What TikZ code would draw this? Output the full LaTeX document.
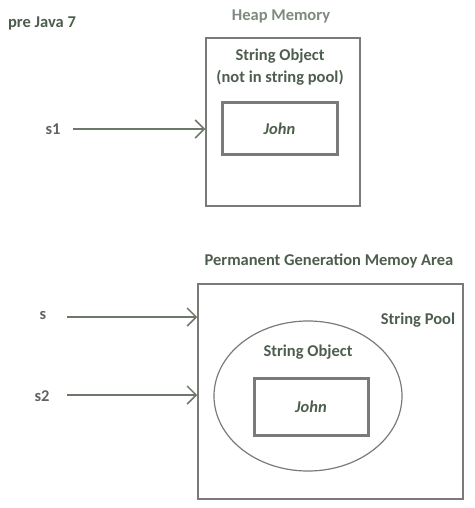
\documentclass[tikz,border=0pt]{standalone}
\usepackage{fontspec}
\setmainfont{Carlito}
\usetikzlibrary{positioning, shapes.geometric, arrows.meta}

\definecolor{txtgreen}{HTML}{4E5E4E}
\definecolor{txtlight}{HTML}{7E8A7E}
\definecolor{linegray}{HTML}{7A7A7A}
\definecolor{arrgreen}{HTML}{6E786A}

\tikzset{
    label/.style={inner sep=0pt, text=txtgreen, font=\bfseries\fontsize{16.5}{19}\selectfont},
    membox/.style={draw=linegray, line width=1.5pt, inner sep=0pt},
    johnbox/.style={draw=linegray, line width=3pt, inner sep=0pt, text=txtgreen, font=\bfseries\itshape\fontsize{16.5}{19}\selectfont},
    pointer/.style={draw=arrgreen, line width=1.5pt, -{Straight Barb[length=9pt, width=18pt, line width=1.5pt]}}
}

\begin{document}
\begin{tikzpicture}[x=1pt, y=-1pt]
            \useasboundingbox (0,0) rectangle (474,508);

            %ヒープ領域
            \node[label] (title) at (42,23) {pre Java 7};
            \node[label, text=txtlight] (heaptitle) at (281,16) {Heap Memory};
            \node[membox, minimum width=154pt, minimum height=168pt] (heap) at (283,122) {};
            \node[label] (obj1) at (280,56) {String Object};
            \node[label] (obj1b) at (280,78) {(not in string pool)};
            \node[johnbox, minimum width=115pt, minimum height=51pt] (john1) at (279.5,128.5) {John};

            %永続領域
            \node[label] (permtitle) at (329,261) {Permanent Generation Memoy Area};
            \node[membox, minimum width=265pt, minimum height=215pt] (perm) at (330.5,391.5) {};
            \node[label] (pool) at (418,320) {String Pool};
            \node[ellipse, draw=linegray, line width=1.2pt, minimum width=188pt, minimum height=150pt, inner sep=0pt] (strobj) at (308,396) {};
            \node[label] (obj2) at (308,352) {String Object};
            \node[johnbox, minimum width=114pt, minimum height=57pt] (john2) at (311,406.5) {John};

            %参照を書く
            \node[label, text=linegray!80!black] (s1) at (53,129) {s1};
            \node[label, text=linegray!80!black] (s) at (43,315) {s};
            \node[label, text=linegray!80!black] (s2) at (42,396) {s2};

            \coordinate (s1tail) at (73,129);
            \coordinate (stail) at (67,317);
            \coordinate (s2tail) at (67,395);

            \draw[pointer] (s1tail) -- (s1tail -| heap.west);
            \draw[pointer] (stail) -- (stail -| perm.west);
            \draw[pointer] (s2tail) -- (s2tail -| perm.west);
        \end{tikzpicture}
\end{document}
